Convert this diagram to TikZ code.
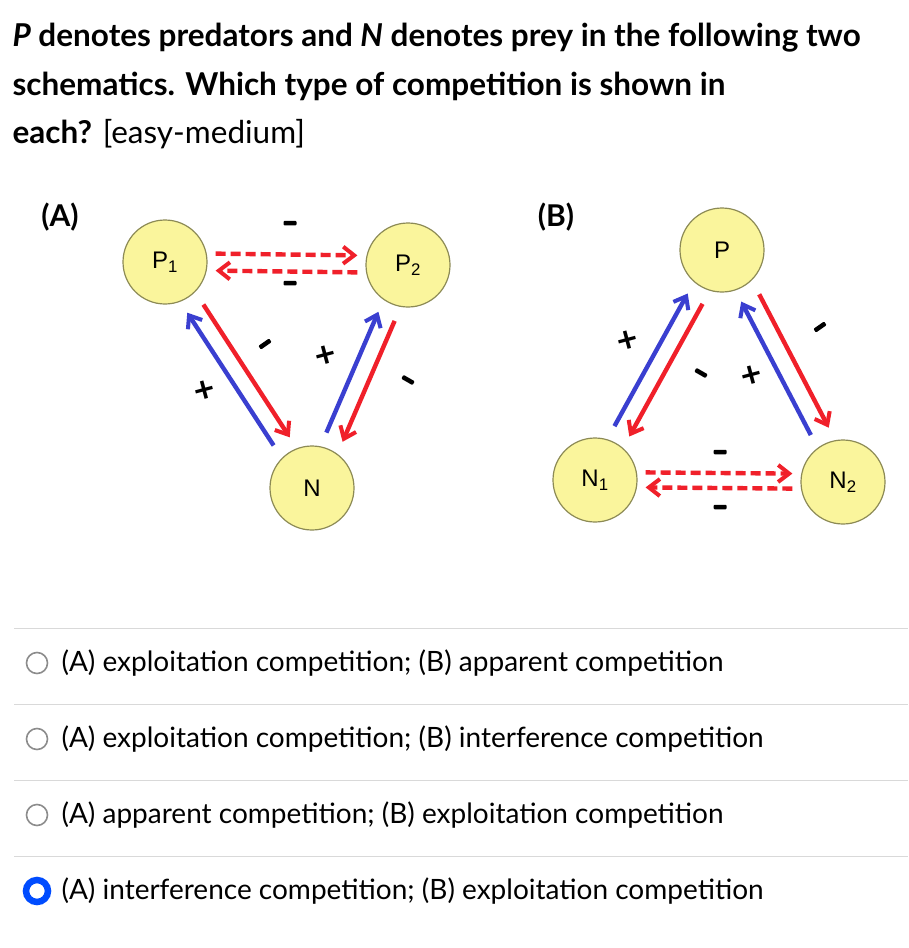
\documentclass[tikz,border=0pt]{standalone}
\usepackage{fontspec}
\setmainfont{Lato}
\newfontfamily\arial{Liberation Sans}
\usetikzlibrary{arrows.meta,calc}
\definecolor{nodefill}{HTML}{FAF59C}
\definecolor{nodeline}{HTML}{8C8A55}
\definecolor{arrred}{HTML}{F0202A}
\definecolor{arrblue}{HTML}{3A3FD0}
\begin{document}
\begin{tikzpicture}[x=1pt,y=1pt,
  org/.style={circle,draw=nodeline,line width=1.2pt,fill=nodefill,minimum size=84pt,inner sep=0pt,font=\arial\fontsize{24}{24}\selectfont},
  rd/.style={draw=arrred,line width=4.4pt,-{Straight Barb[length=11pt,width=17pt,line width=4pt]},shorten <=14pt,shorten >=12pt},
  bl/.style={rd,draw=arrblue},
  dsh/.style={rd,dash pattern=on 10pt off 5pt,shorten <=8pt,shorten >=8pt},
  mn/.style={fill=black,minimum width=13pt,minimum height=4.5pt,inner sep=0pt,rounded corners=1pt},
  pl/.style={font=\bfseries\fontsize{36}{36}\selectfont,inner sep=0pt},
  ttl/.style={anchor=west,font=\fontsize{31.5}{32}\selectfont},
  opt/.style={anchor=west,font=\fontsize{28}{28}\selectfont},
  sep/.style={draw=black!15,line width=1pt},
  radio/.style={circle,draw=black!45,line width=1.6pt,minimum size=21pt,inner sep=0pt}]
\useasboundingbox[fill=white] (0,0) rectangle (908,-948);
% title
\node[ttl] (t1) at (9,-38) {\textbf{\textit{P} denotes predators and \textit{N} denotes prey in the following two}};
\node[ttl] (t2) at (9,-86) {\textbf{schematics. Which type of competition is shown in}};
\node[ttl] (t3) at (9,-134) {\textbf{each?} [easy-medium]};
% (A)
\node[font=\bfseries\fontsize{30}{30}\selectfont] (la) at (60,-217) {(A)};
\node[org] (P1) at (165,-262) {P\textsubscript{1}};
\node[org] (P2) at (408,-265) {P\textsubscript{2}};
\node[org] (N) at (312,-488) {N};
\draw[dsh,transform canvas={yshift=9pt}] (P1) -- (P2);
\draw[dsh,transform canvas={yshift=-8pt}] (P2) -- (P1);
\draw[rd,transform canvas={shift={(7.5,4.9)}}] (P1) -- (N);
\draw[bl,transform canvas={shift={(-7.5,-4.9)}}] (N) -- (P1);
\draw[rd,transform canvas={shift={(9,-3.9)}}] (P2) -- (N);
\draw[bl,transform canvas={shift={(-8,3.4)}}] (N) -- (P2);
\node[mn] (a1) at (290,-223) {};
\node[mn] (a2) at (290,-283) {};
\node[mn,rotate=35] (a3) at (265,-344) {};
\node[pl,rotate=15] (a4) at (205,-392) {+};
\node[pl,rotate=15] (a5) at (326,-357) {+};
\node[mn,rotate=-30] (a6) at (408,-380) {};
% (B)
\node[font=\bfseries\fontsize{30}{30}\selectfont] (lb) at (556,-217) {(B)};
\node[org] (P) at (722,-250) {P};
\node[org] (N1) at (595,-480) {N\textsubscript{1}};
\node[org] (N2) at (843,-482) {N\textsubscript{2}};
\draw[dsh,transform canvas={yshift=8pt}] (N1) -- (N2);
\draw[dsh,transform canvas={yshift=-7pt}] (N2) -- (N1);
\draw[rd,transform canvas={shift={(7.9,-4.3)}}] (P) -- (N1);
\draw[bl,transform canvas={shift={(-7.9,4.3)}}] (N1) -- (P);
\draw[rd,transform canvas={shift={(11,5.9)}}] (P) -- (N2);
\draw[bl,transform canvas={shift={(-6,-3.2)}}] (N2) -- (P);
\node[mn] (b1) at (720,-452) {};
\node[mn] (b2) at (720,-507) {};
\node[pl,rotate=15] (b3) at (628,-342) {+};
\node[mn,rotate=-30] (b4) at (701,-373) {};
\node[pl,rotate=15] (b5) at (752,-377) {+};
\node[mn,rotate=35] (b6) at (820,-327) {};
% options
\draw[sep] (14,-628) -- (908,-628);
\draw[sep] (14,-704) -- (908,-704);
\draw[sep] (14,-780) -- (908,-780);
\draw[sep] (14,-856) -- (908,-856);
\node[radio] (r1) at (37,-663) {};
\node[radio] (r2) at (37,-739) {};
\node[radio] (r3) at (37,-815) {};
\node[radio,draw=blue!70!cyan,line width=6.5pt,minimum size=22pt,fill=white] (r4) at (37,-891) {};
\node[opt] (o1) at (58,-663) {(A) exploitation competition; (B) apparent competition};
\node[opt] (o2) at (58,-739) {(A) exploitation competition; (B) interference competition};
\node[opt] (o3) at (58,-815) {(A) apparent competition; (B) exploitation competition};
\node[opt] (o4) at (58,-891) {(A) interference competition; (B) exploitation competition};
\end{tikzpicture}
\end{document}
